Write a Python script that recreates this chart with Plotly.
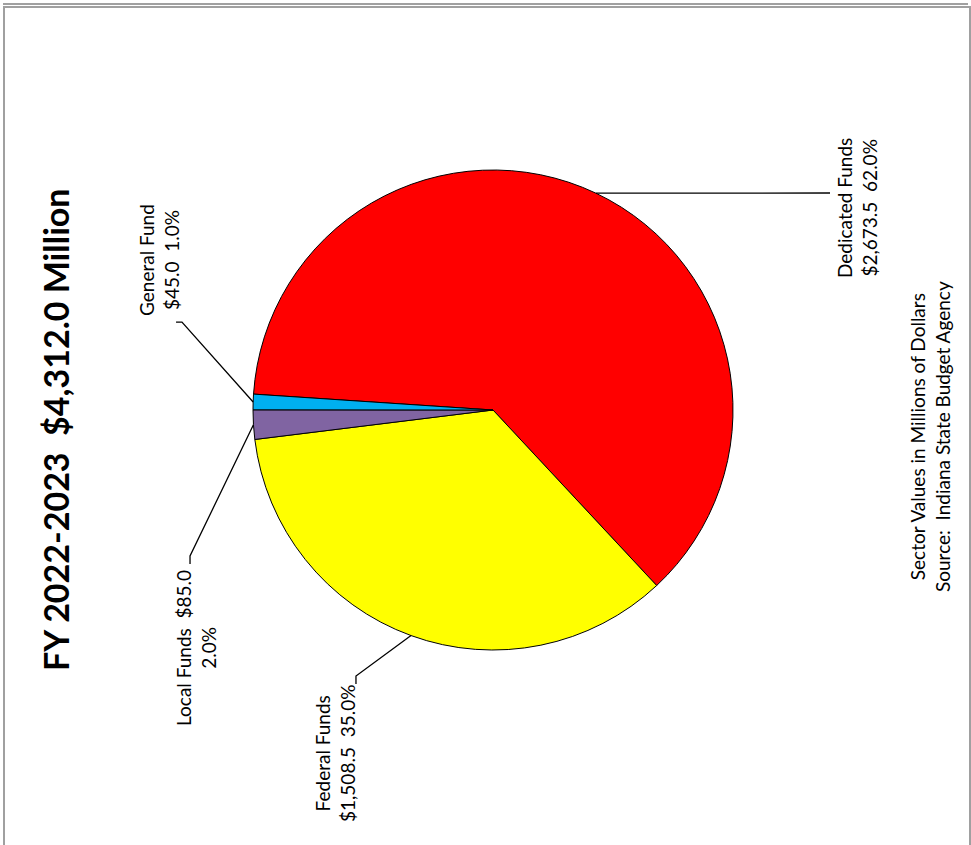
import math
import plotly.graph_objects as go

# ---- data ----
categories = ["Dedicated Funds", "Federal Funds", "Local Funds", "General Fund"]
values = [2673.5, 1508.5, 85.0, 45.0]
percent_labels = ["62.0%", "35.0%", "2.0%", "1.0%"]
colors = ["#FF0000", "#FFFF00", "#8064A2", "#00B0F0"]
title_text = "FY 2022-2023\u00a0\u00a0$4,312.0 Million"
note_lines = ["Sector Values in Millions of Dollars", "Source:\u00a0\u00a0Indiana State Budget Agency"]

W, H = 971, 845
CX, CY, R = 493, 410, 240          # pie centre / radius in pixels
ROTATION = -86.2                     # start angle of first slice (clockwise from 12 o'clock)

def px(x):
    return x / W

def py(y):
    return 1 - y / H

fig = go.Figure()
fig.add_trace(go.Pie(
    labels=categories, values=values, sort=False, direction="clockwise",
    rotation=ROTATION, textinfo="none", hoverinfo="label+value+percent",
    marker=dict(colors=colors, line=dict(color="black", width=1)),
    domain=dict(x=[px(CX - R), px(CX + R)], y=[py(CY + R), py(CY - R)]),
    showlegend=False,
))

# slice mid points on the rim, computed from the data
total = sum(values)
mids = []
cum = 0.0
for v in values:
    frac = v / total
    a = math.radians(ROTATION + 360 * (cum + frac / 2))
    mids.append((CX + R * math.sin(a), CY - R * math.cos(a)))
    cum += frac

def fmt_money(v):
    return "${:,.1f}".format(v)

label_text = {
    "Dedicated Funds": "Dedicated Funds<br>{}\u00a0\u00a0{}".format(fmt_money(values[0]), percent_labels[0]),
    "Federal Funds": "Federal Funds<br>{}\u00a0\u00a0{}".format(fmt_money(values[1]), percent_labels[1]),
    "Local Funds": "Local Funds\u00a0\u00a0{}<br>{}".format(fmt_money(values[2]), percent_labels[2]),
    "General Fund": "General Fund<br>{}\u00a0\u00a0{}".format(fmt_money(values[3]), percent_labels[3]),
}
# label centres and leader-line elbows (pixels)
label_pos = {
    "Dedicated Funds": (857, 208),
    "Federal Funds": (335, 754),
    "Local Funds": (196, 648),
    "General Fund": (159, 260),
}
leader_path = {
    "Dedicated Funds": [(830, 193)],
    "Federal Funds": [(356, 676), (356, 684)],
    "Local Funds": [(190, 556), (190, 564)],
    "General Fund": [(182, 322), (176, 322)],
}

FONT = "Lato, 'Open Sans', sans-serif"
LABEL_SIZE = 19
shapes = []
annotations = []
for i, cat in enumerate(categories):
    pts = [mids[i]] + leader_path[cat]
    path = "M " + " L ".join("{:.4f},{:.4f}".format(px(x), py(y)) for x, y in pts)
    shapes.append(dict(type="path", xref="paper", yref="paper", path=path,
                       line=dict(color="black", width=1.3)))
    lx, ly = label_pos[cat]
    annotations.append(dict(text=label_text[cat], x=px(lx), y=py(ly), xref="paper", yref="paper",
                            showarrow=False, textangle=-90, xanchor="center", yanchor="middle",
                            align="center", font=dict(family=FONT, size=LABEL_SIZE, color="black")))

annotations.append(dict(text="<b>" + title_text + "</b>", x=px(55), y=py(430), xref="paper", yref="paper",
                        showarrow=False, textangle=-90, xanchor="center", yanchor="middle",
                        font=dict(family=FONT, size=34, color="black")))
annotations.append(dict(text="<br>".join(note_lines), x=px(930), y=py(437), xref="paper", yref="paper",
                        showarrow=False, textangle=-90, xanchor="center", yanchor="middle",
                        align="center", font=dict(family=FONT, size=LABEL_SIZE, color="black")))

# frame lines
shapes.append(dict(type="line", xref="paper", yref="paper", x0=px(3), x1=px(968), y0=py(4), y1=py(4),
                   line=dict(color="#A0A0A0", width=2)))
shapes.append(dict(type="rect", xref="paper", yref="paper", x0=px(4), x1=px(970), y0=py(7), y1=py(850),
                   line=dict(color="#A0A0A0", width=2)))

fig.update_layout(
    width=W, height=H, margin=dict(l=0, r=0, t=0, b=0),
    paper_bgcolor="white", plot_bgcolor="white",
    shapes=shapes, annotations=annotations,
)
fig.write_html("out.html", config={"displayModeBar": False},
               post_script="document.body.style.margin='0';document.body.style.overflow='hidden';")
